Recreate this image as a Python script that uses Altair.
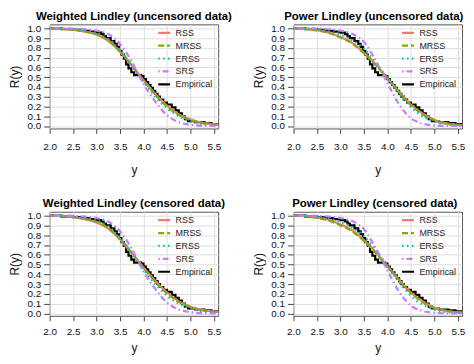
import altair as alt
import pandas as pd

# ---------------- data ----------------
SERIES = ["RSS", "MRSS", "ERSS", "SRS", "Empirical"]
COLORS = ["#F8766D", "#7CAE00", "#00BFC4", "#C77CFF", "#000000"]
DASHES = [[1, 0], [6, 3], [1.5, 3.5], [1.5, 3, 6, 3], [1, 0]]
WIDTHS = [2.2, 2.2, 2.2, 2.2, 3.4]

X_TICKS = [2.0, 2.5, 3.0, 3.5, 4.0, 4.5, 5.0, 5.5]
Y_TICKS = [0.0, 0.1, 0.2, 0.3, 0.4, 0.5, 0.6, 0.7, 0.8, 0.9, 1.0]

# evaluation points of the fitted reliability curves
Y_GRID = [2.0, 2.25, 2.5, 2.75, 3.0, 3.25, 3.5, 3.75, 4.0, 4.25, 4.5, 4.75, 5.0, 5.25, 5.5, 5.6]

# Weighted Lindley, uncensored
WL_U_RSS = [1.00, 0.995, 0.985, 0.965, 0.935, 0.87, 0.76, 0.62, 0.47, 0.33, 0.21, 0.12, 0.07, 0.035, 0.02, 0.015]
WL_U_MRSS = [1.00, 0.995, 0.985, 0.967, 0.94, 0.875, 0.765, 0.62, 0.465, 0.32, 0.20, 0.115, 0.06, 0.03, 0.015, 0.012]
WL_U_ERSS = [1.00, 0.997, 0.99, 0.975, 0.95, 0.89, 0.78, 0.62, 0.45, 0.30, 0.18, 0.10, 0.05, 0.02, 0.01, 0.008]
WL_U_SRS = [1.00, 1.00, 0.998, 0.99, 0.975, 0.94, 0.84, 0.66, 0.43, 0.25, 0.11, 0.04, 0.012, 0.003, 0.001, 0.0]

# Power Lindley, uncensored
PL_U_RSS = [1.00, 0.995, 0.98, 0.955, 0.91, 0.85, 0.75, 0.63, 0.49, 0.35, 0.22, 0.13, 0.065, 0.03, 0.013, 0.01]
PL_U_MRSS = [1.00, 0.994, 0.978, 0.952, 0.905, 0.845, 0.745, 0.625, 0.485, 0.345, 0.215, 0.12, 0.06, 0.027, 0.011, 0.008]
PL_U_ERSS = [1.00, 0.997, 0.99, 0.97, 0.935, 0.88, 0.79, 0.65, 0.49, 0.33, 0.19, 0.10, 0.045, 0.018, 0.007, 0.005]
PL_U_SRS = [1.00, 1.00, 0.998, 0.99, 0.975, 0.945, 0.86, 0.67, 0.44, 0.22, 0.08, 0.025, 0.006, 0.001, 0.0, 0.0]

# Weighted Lindley, censored
WL_C_RSS = [1.00, 0.995, 0.984, 0.963, 0.93, 0.865, 0.755, 0.615, 0.47, 0.335, 0.215, 0.125, 0.07, 0.037, 0.02, 0.016]
WL_C_MRSS = [1.00, 0.995, 0.985, 0.966, 0.937, 0.872, 0.76, 0.618, 0.465, 0.325, 0.205, 0.118, 0.063, 0.032, 0.016, 0.012]
WL_C_ERSS = [1.00, 0.997, 0.99, 0.975, 0.95, 0.89, 0.775, 0.62, 0.45, 0.30, 0.18, 0.10, 0.05, 0.02, 0.01, 0.008]
WL_C_SRS = [1.00, 1.00, 0.998, 0.99, 0.975, 0.94, 0.84, 0.66, 0.43, 0.25, 0.11, 0.04, 0.012, 0.003, 0.001, 0.0]

# Power Lindley, censored
PL_C_RSS = [1.00, 0.995, 0.98, 0.955, 0.91, 0.85, 0.75, 0.625, 0.485, 0.345, 0.215, 0.125, 0.06, 0.028, 0.012, 0.01]
PL_C_MRSS = [1.00, 0.994, 0.977, 0.95, 0.90, 0.84, 0.74, 0.62, 0.48, 0.34, 0.21, 0.115, 0.055, 0.025, 0.01, 0.008]
PL_C_ERSS = [1.00, 0.997, 0.99, 0.97, 0.935, 0.88, 0.79, 0.65, 0.49, 0.32, 0.18, 0.09, 0.04, 0.015, 0.006, 0.005]
PL_C_SRS = [1.00, 1.00, 0.998, 0.99, 0.975, 0.945, 0.86, 0.67, 0.44, 0.22, 0.08, 0.025, 0.006, 0.001, 0.0, 0.0]

# empirical reliability (step function): jump points and levels
EMP_Y = [2.0, 2.25, 2.5, 2.7, 2.85, 3.0, 3.1, 3.15, 3.2, 3.3, 3.38, 3.43, 3.48, 3.53, 3.58,
         3.63, 3.68, 3.74, 3.8, 3.95, 4.0, 4.05, 4.1, 4.15, 4.2, 4.25, 4.3, 4.35, 4.42, 4.5,
         4.6, 4.68, 4.75, 4.82, 4.88, 4.95, 5.1, 5.3, 5.45, 5.6]
EMP_R = [1.0, 0.99, 0.985, 0.975, 0.965, 0.955, 0.94, 0.92, 0.90, 0.87, 0.84, 0.81, 0.77, 0.73, 0.69,
         0.63, 0.59, 0.55, 0.52, 0.51, 0.48, 0.45, 0.42, 0.39, 0.36, 0.33, 0.30, 0.27, 0.24, 0.22,
         0.19, 0.16, 0.13, 0.10, 0.07, 0.05, 0.04, 0.03, 0.02, 0.02]

PANELS = [
    ("Weighted Lindley (uncensored data)", [WL_U_RSS, WL_U_MRSS, WL_U_ERSS, WL_U_SRS], 0),
    ("Power Lindley (uncensored data)", [PL_U_RSS, PL_U_MRSS, PL_U_ERSS, PL_U_SRS], -4),
    ("Weighted Lindley (censored data)", [WL_C_RSS, WL_C_MRSS, WL_C_ERSS, WL_C_SRS], 0),
    ("Power Lindley (censored data)", [PL_C_RSS, PL_C_MRSS, PL_C_ERSS, PL_C_SRS], -3),
]

FONT = "Liberation Sans"


def panel(title, fits, dx, top_row):
    rows = []
    for name, vals in zip(SERIES[:4], fits):
        for xv, rv in zip(Y_GRID, vals):
            rows.append({"yv": xv, "R": rv, "series": name})
    fit_df = pd.DataFrame(rows)
    emp_df = pd.DataFrame({"yv": EMP_Y, "R": EMP_R, "series": "Empirical"})

    xenc = alt.X(
        "yv:Q",
        scale=alt.Scale(domain=[2.0, 5.59], nice=False, zero=False),
        axis=alt.Axis(
            values=X_TICKS, format=".1f", title="y",
            labelPadding=8 if top_row else 6,
            titlePadding=13 if top_row else 6,
        ),
    )
    yenc = alt.Y(
        "R:Q",
        scale=alt.Scale(domain=[-0.025, 1.04], nice=False, zero=False),
        axis=alt.Axis(values=Y_TICKS, format=".1f", title="R(y)"),
    )
    leg = alt.Legend(orient="none", legendX=108, legendY=1, title=None)
    color = alt.Color("series:N", scale=alt.Scale(domain=SERIES, range=COLORS), legend=leg)
    dash = alt.StrokeDash("series:N", scale=alt.Scale(domain=SERIES, range=DASHES), legend=leg)
    sw = alt.StrokeWidth("series:N", scale=alt.Scale(domain=SERIES, range=WIDTHS), legend=leg)

    emp = alt.Chart(emp_df).mark_line(interpolate="step-after", clip=True).encode(
        x=xenc, y=yenc, color=color, strokeDash=dash, strokeWidth=sw
    )
    fit = alt.Chart(fit_df).mark_line(interpolate="monotone", clip=True).encode(
        x=xenc, y=yenc, color=color, strokeDash=dash, strokeWidth=sw
    )
    return alt.layer(emp, fit).properties(
        width=170, height=105,
        title=alt.TitleParams(title, dx=dx, dy=3),
    )


charts = [panel(t, f, dx, i < 2) for i, (t, f, dx) in enumerate(PANELS)]

chart = (
    alt.concat(*charts, columns=2, spacing={"row": 84, "column": 76}, bounds="flush")
    .resolve_scale(color="independent", strokeDash="independent", strokeWidth="independent")
    .resolve_legend(color="independent", strokeDash="independent", strokeWidth="independent")
    .properties(padding=0)
    .configure_view(stroke="#555555", strokeWidth=1)
    .configure_title(font=FONT, fontSize=11.5, fontWeight="bold", color="#000000", offset=0, anchor="middle")
    .configure_axis(
        labelFont=FONT, titleFont=FONT, labelFontSize=10, titleFontSize=12,
        titleFontWeight="normal", labelColor="#111111", titleColor="#111111",
        gridColor="#dedede", gridWidth=1, domain=False, tickColor="#444444",
        labelOverlap=False, labelFlush=False, labelBound=False,
    )
    .configure_axisX(tickSize=5)
    .configure_axisY(tickSize=6, labelPadding=3, titlePadding=5)
    .configure_legend(
        symbolType="stroke", symbolSize=144, labelFont=FONT, labelFontSize=9,
        labelColor="#222222", labelOffset=4, rowPadding=-5, padding=0, symbolOffset=0,
    )
)

chart.save("out.html", embed_options={"renderer": "svg", "actions": False})
